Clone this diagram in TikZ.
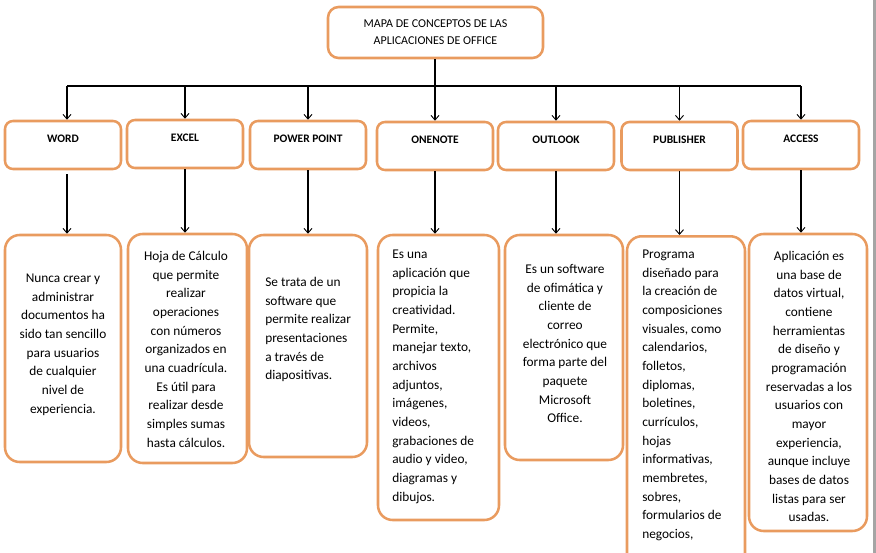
\documentclass[tikz,border=0pt]{standalone}
\usepackage{fontspec}
\setmainfont{Carlito}
\usetikzlibrary{arrows.meta}
\definecolor{boxorange}{RGB}{233,155,95}
\definecolor{stripegray}{RGB}{165,165,165}
\begin{document}
\begin{tikzpicture}[x=0.75pt,y=-0.75pt,
  hbox/.style={draw=boxorange, line width=1.9pt, rounded corners=6pt, fill=white,
    minimum width=87pt, minimum height=36pt, inner sep=0pt,
    font=\bfseries\fontsize{8.6}{10}\selectfont, text height=6.75pt, text depth=11.25pt},
  dbox/.style={draw=boxorange, line width=1.9pt, rounded corners=11pt, inner sep=0pt},
  body/.style={inner sep=0pt, anchor=north, font=\fontsize{10}{14}\selectfont},
  arr/.style={draw=black, line width=0.8pt, -{Straight Barb[length=3.5pt,width=6pt,line width=0.7pt]}},
]
\useasboundingbox (0,0) rectangle (876,553);
\clip (0,0) rectangle (876,553);

% title
\node[draw=boxorange, line width=1.9pt, rounded corners=8pt, minimum width=161.25pt,
  minimum height=38.25pt, inner sep=0pt, align=center,
  font=\fontsize{9}{12.75}\selectfont] (title) at (435.5,32.5)
  {MAPA DE CONCEPTOS DE LAS\\APLICACIONES DE OFFICE};

% header boxes
\node[hbox] (word) at (63,145) {WORD};
\node[hbox] (excel) at (185,144) {EXCEL};
\node[hbox] (pp) at (308,145) {POWER POINT};
\node[hbox] (onenote) at (435,146) {ONENOTE};
\node[hbox] (outlook) at (556,146) {OUTLOOK};
\node[hbox] (publisher) at (679.5,146) {PUBLISHER};
\node[hbox] (access) at (801,145) {ACCESS};

% bus
\coordinate (bus) at (435,86);
\coordinate (wordx) at (67,145);
\draw[line width=0.8pt] (wordx |- bus) -- (access.north |- bus);
\draw[arr] (onenote.north |- title.south) -- (onenote.north);
\draw[arr] (wordx |- bus) -- (wordx |- word.north);
\foreach \n in {excel,pp,outlook,publisher,access}
  \draw[arr] (\n.north |- bus) -- (\n.north);

% detail boxes
\node[dbox, minimum width=87pt, minimum height=170.25pt] (wordd) at (63,348.5) {};
\node[dbox, minimum width=89.25pt, minimum height=171.75pt] (exceld) at (187.5,348.5) {};
\node[dbox, minimum width=88.5pt, minimum height=166.5pt] (ppd) at (308,346) {};
\node[dbox, minimum width=90.75pt, minimum height=213.75pt] (onenoted) at (438.5,377.5) {};
\node[dbox, minimum width=88.5pt, minimum height=168.75pt] (outlookd) at (564,347.5) {};
\node[dbox, minimum width=88.5pt, minimum height=270pt, anchor=north] (publisherd) at (686,235) {};
\node[dbox, minimum width=88.5pt, minimum height=222.75pt] (accessd) at (808,382.5) {};

% vertical connectors
\draw[arr, shorten <=3pt] (wordx |- word.south) -- (wordx |- wordd.north);
\draw[arr] (excel.south) -- (exceld.north -| excel.south);
\draw[arr, line width=1.5pt] (pp.south) -- (ppd.north);
\draw[arr] (onenote.south) -- (onenoted.north -| onenote.south);
\draw[arr] (outlook.south) -- (outlookd.north -| outlook.south);
\draw[arr] (publisher.south) -- (publisherd.north -| publisher.south);
\draw[arr] (access.south) -- (accessd.north -| access.south);

% texts
\node[body, align=center] (wordt) at (63,269) {\strut Nunca crear y\\administrar\\documentos ha\\sido tan sencillo\\para usuarios\\de cualquier\\nivel de\\experiencia.};
\node[body, align=center] (excelt) at (186,247) {\strut Hoja de Cálculo\\que permite\\realizar\\operaciones\\con números\\organizados en\\una cuadrícula.\\Es útil para\\realizar desde\\simples sumas\\hasta cálculos.};
\node[body, align=left, anchor=north west] (ppt) at (265,273) {\strut Se trata de un\\software que\\permite realizar\\presentaciones\\a través de\\diapositivas.};
\node[body, align=left, anchor=north west] (onenotet) at (392,245) {\strut Es una\\aplicación que\\propicia la\\creatividad.\\Permite,\\manejar texto,\\archivos\\adjuntos,\\imágenes,\\videos,\\grabaciones de\\audio y video,\\diagramas y\\dibujos.};
\node[body, align=center] (outlookt) at (565,260) {\strut Es un software\\de ofimática y\\cliente de\\correo\\electrónico que\\forma parte del\\paquete\\Microsoft\\Office.};
\node[body, align=left, anchor=north west] (publishert) at (642,245) {\strut Programa\\diseñado para\\la creación de\\composiciones\\visuales, como\\calendarios,\\folletos,\\diplomas,\\boletines,\\currículos,\\hojas\\informativas,\\membretes,\\sobres,\\formularios de\\negocios,};
\node[body, align=center] (accesst) at (809,247) {\strut Aplicación es\\una base de\\datos virtual,\\contiene\\herramientas\\de diseño y\\programación\\reservadas a los\\usuarios con\\mayor\\experiencia,\\aunque incluye\\bases de datos\\listas para ser\\usadas.};

% right page edge
\fill[stripegray] (873,0) rectangle (876,553);
\end{tikzpicture}
\end{document}
